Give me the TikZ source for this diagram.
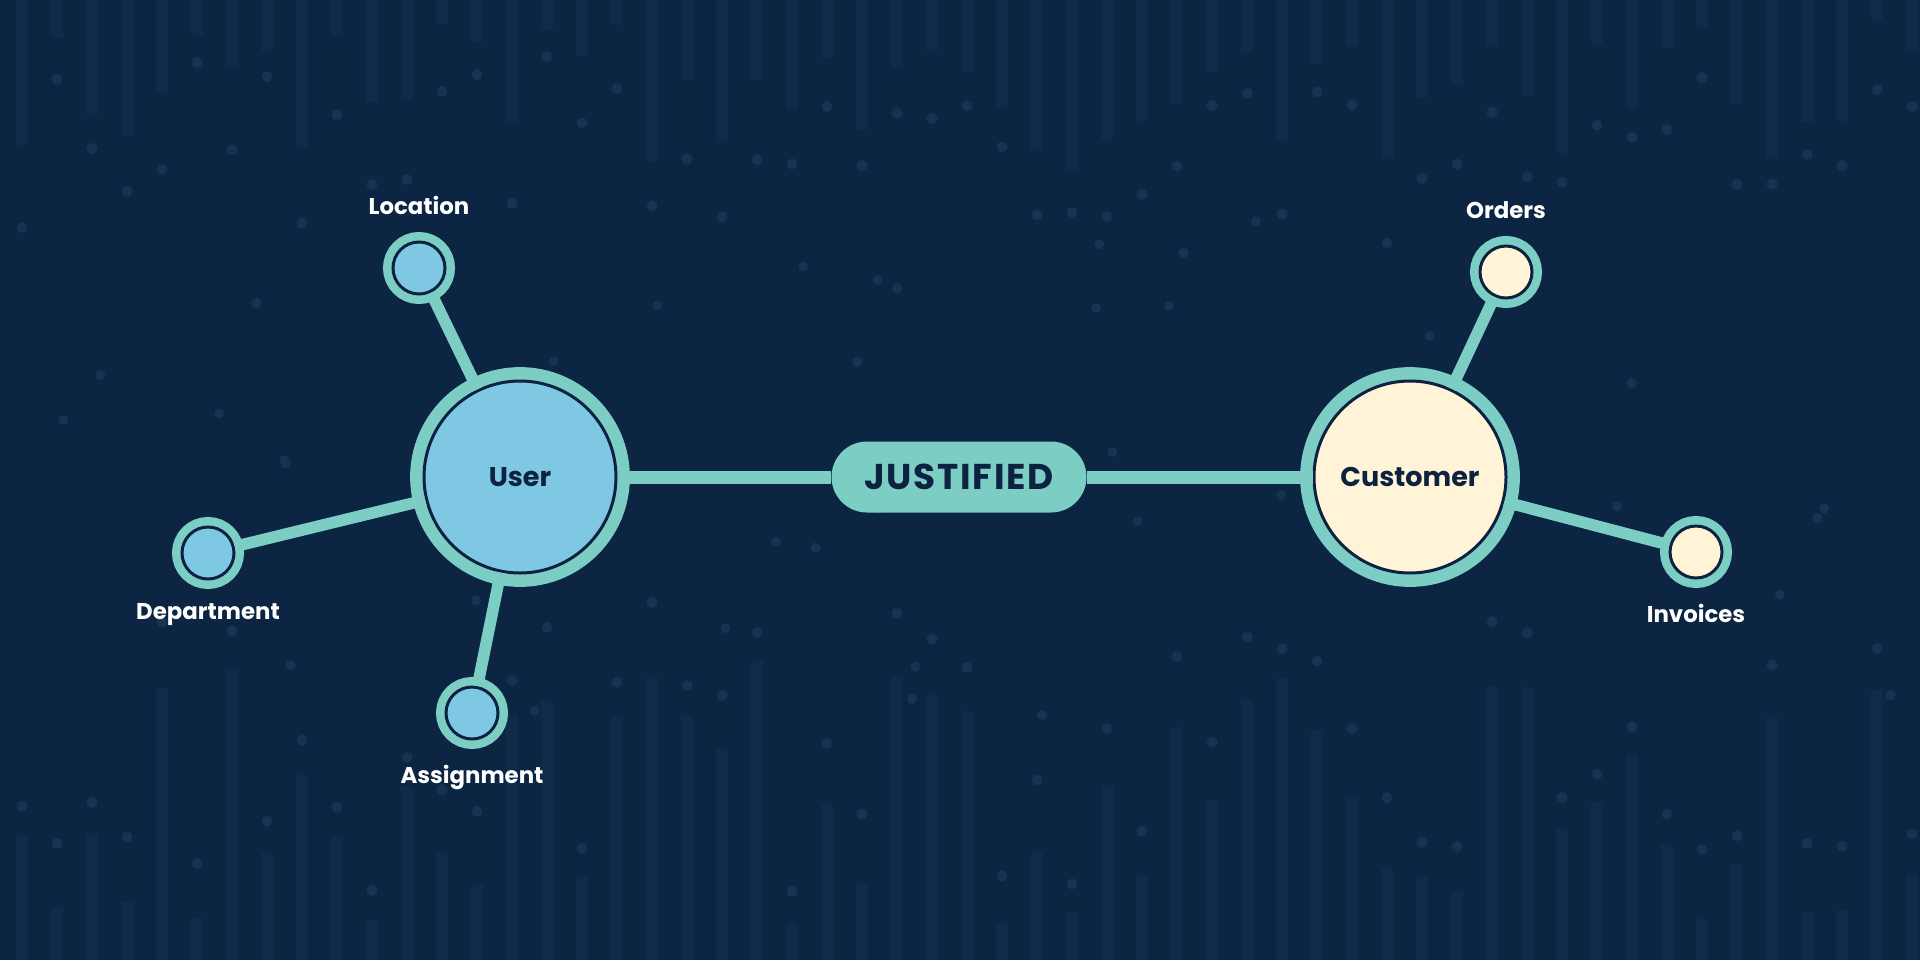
\documentclass[tikz,border=0pt]{standalone}
\usepackage{fontspec}
\setmainfont{Poppins}
\usetikzlibrary{positioning}

\definecolor{bgnavy}{HTML}{0B2542}
\definecolor{barnavy}{HTML}{0E2B49}
\definecolor{dotnavy}{HTML}{163452}
\definecolor{ringteal}{HTML}{7CCDC3}
\definecolor{userblue}{HTML}{7EC8E3}
\definecolor{custcream}{HTML}{FFF3D8}
\definecolor{inknavy}{HTML}{0C2240}

\begin{document}
\begin{tikzpicture}[
    bigent/.style={circle, minimum size=1.92cm, inner sep=0pt, draw=inknavy, line width=0.85pt,
      preaction={draw=ringteal, line width=7.9pt}, text=inknavy,
      font=\bfseries\fontsize{7.7}{9}\selectfont},
    subent/.style={circle, minimum size=0.52cm, inner sep=0pt, draw=inknavy, line width=0.85pt,
      preaction={draw=ringteal, line width=5.7pt}},
    lbl/.style={text=white, inner sep=0pt, font=\bfseries\fontsize{6.5}{8}\selectfont},
    pill/.style={rounded corners=0.355cm, fill=ringteal, minimum width=2.55cm, minimum height=0.71cm,
      text=inknavy, font=\bfseries\fontsize{10.2}{12}\selectfont\addfontfeatures{LetterSpace=5}},
    trunk/.style={draw=ringteal, line width=3.7pt},
    spoke/.style={draw=ringteal, line width=3.3pt}
  ]
    \useasboundingbox (0,0) rectangle (19.2,9.6);
    \fill[bgnavy] (0,0) rectangle (19.2,9.6);

    % faint bars and dots in the background
    \pgfmathsetseed{17}
    \foreach \i in {0,...,54} {
      \pgfmathsetmacro{\xx}{0.22+0.35*\i}
      \pgfmathsetmacro{\topl}{0.2+1.5*rnd}
      \pgfmathsetmacro{\botl}{0.3+2.7*rnd}
      \fill[barnavy] (\xx-0.06,9.6) rectangle (\xx+0.06,9.6-\topl);
      \fill[barnavy] (\xx-0.06,0) rectangle (\xx+0.06,\botl);
      \fill[dotnavy] (\xx,9.6-\topl-0.25-0.6*rnd) circle (0.055);
      \fill[dotnavy] (\xx,\botl+0.25+0.5*rnd) circle (0.055);
    }
    \foreach \k in {1,...,45}
      \fill[dotnavy] (0.2+18.8*rnd, 2.2+5.2*rnd) circle (0.05);

    % entities
    \node[bigent, fill=userblue]  (user) at (5.20,4.83)  {User};
    \node[bigent, fill=custcream] (cust) at (14.10,4.83) {Customer};
    \node[pill] (just) at (9.59,4.83) {JUSTIFIED};

    \node[subent, fill=userblue]  (loc)  at (4.19,6.92)  {};
    \node[subent, fill=userblue]  (dept) at (2.08,4.07)  {};
    \node[subent, fill=userblue]  (asg)  at (4.72,2.47)  {};
    \node[subent, fill=custcream] (ord)  at (15.06,6.88) {};
    \node[subent, fill=custcream] (inv)  at (16.96,4.08) {};

    \node[lbl, above=0.25cm of loc]  (locl)  {Location};
    \node[lbl, below=0.22cm of dept] (deptl) {Department};
    \node[lbl, below=0.24cm of asg]  (asgl)  {Assignment};
    \node[lbl, above=0.25cm of ord]  (ordl)  {Orders};
    \node[lbl, below=0.24cm of inv]  (invl)  {Invoices};

    % connectors
    \draw[trunk] (user) -- (just);
    \draw[trunk] (just) -- (cust);
    \draw[spoke] (user) -- (loc);
    \draw[spoke] (user) -- (dept);
    \draw[spoke] (user) -- (asg);
    \draw[spoke] (cust) -- (ord);
    \draw[spoke] (cust) -- (inv);
\end{tikzpicture}
\end{document}
